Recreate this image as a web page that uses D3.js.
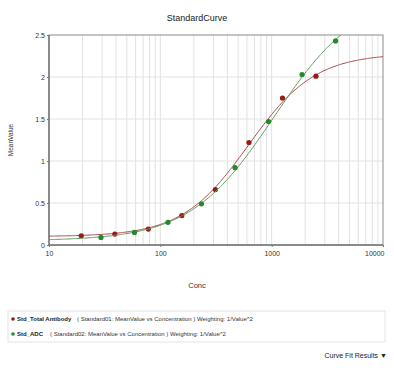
<!DOCTYPE html>
<html>
<head>
<meta charset="utf-8">
<script src="https://cdn.jsdelivr.net/npm/d3@7"></script>
<style>
  body { margin: 0; background: #fff; }
  text { font-family: "Liberation Sans", Arial, sans-serif; fill: #333; }
</style>
</head>
<body>
<div class="chart"></div>
<script>
// standards: concentration vs mean value
let totalConc = [19.5, 39, 78, 156, 312.5, 625, 1250, 2500]
let totalValue = [0.11, 0.13, 0.19, 0.35, 0.66, 1.22, 1.75, 2.01]
let adcConc = [29.3, 58.6, 117, 234, 469, 938, 1875, 3750]
let adcValue = [0.09, 0.15, 0.27, 0.49, 0.92, 1.47, 2.03, 2.43]

// 4PL fit parameters [A, B, C, D]
let totalFit = [0.1, 1.45, 620, 2.28]
let adcFit = [0.05, 1.15, 1050, 3.0]

let xTicks = [10, 100, 1000, 10000]
let yTicks = [0, 0.5, 1, 1.5, 2, 2.5]

let legendNames = ['Std_Total Antibody', 'Std_ADC']
let legendDesc = [
  '( Standard01: MeanValue vs Concentration )  Weighting: 1/Value^2',
  '( Standard02: MeanValue vs Concentration )  Weighting: 1/Value^2'
]

let width = 394, height = 368
let plot = { left: 49, right: 383, top: 35, bottom: 245 }

let x = d3.scaleLog().domain([10, 10000]).range([plot.left, plot.right])
let y = d3.scaleLinear().domain([0, 2.5]).range([plot.bottom, plot.top])

let svg = d3.select('.chart')
  .append('svg')
  .attr('width', width)
  .attr('height', height)

// grid
let minor = []
for (let p = 10; p < 10000; p *= 10) {
  for (let k = 1; k <= 9; k++) minor.push(p * k)
}
svg.append('g').selectAll('line')
  .data(minor.filter(d => d > 10))
  .enter().append('line')
  .attr('x1', d => x(d)).attr('x2', d => x(d))
  .attr('y1', plot.top).attr('y2', plot.bottom)
  .attr('stroke', '#e2e2e2').attr('stroke-width', 1)

svg.append('g').selectAll('line')
  .data(yTicks.filter(d => d > 0 && d < 2.5))
  .enter().append('line')
  .attr('x1', plot.left).attr('x2', plot.right)
  .attr('y1', d => y(d)).attr('y2', d => y(d))
  .attr('stroke', '#e2e2e2').attr('stroke-width', 1)

// frame
svg.append('rect')
  .attr('x', plot.left).attr('y', plot.top)
  .attr('width', plot.right - plot.left).attr('height', plot.bottom - plot.top)
  .attr('fill', 'none').attr('stroke', '#8a8a8a').attr('stroke-width', 1)
svg.append('line')
  .attr('x1', plot.left).attr('x2', plot.left)
  .attr('y1', plot.top).attr('y2', plot.bottom)
  .attr('stroke', '#777').attr('stroke-width', 1.5)
svg.append('line')
  .attr('x1', plot.left).attr('x2', plot.right)
  .attr('y1', plot.bottom).attr('y2', plot.bottom)
  .attr('stroke', '#777').attr('stroke-width', 1.5)

// axes
let yAxis = d3.axisLeft(y).tickValues(yTicks).tickSize(2).tickFormat(d3.format('~g'))
let gy = svg.append('g').attr('transform', `translate(${plot.left},0)`).call(yAxis)
gy.select('.domain').remove()
gy.selectAll('line').attr('stroke', '#777')
gy.selectAll('text').style('font-size', '7px').attr('x', -4)

let xAxis = d3.axisBottom(x).tickValues(xTicks).tickSize(2).tickFormat(d3.format('d'))
let gx = svg.append('g').attr('transform', `translate(0,${plot.bottom})`).call(xAxis)
gx.select('.domain').remove()
gx.selectAll('line').attr('stroke', '#777')
gx.selectAll('text').style('font-size', '7px').attr('dy', '0.9em')
gx.selectAll('text').filter(d => d === 10000).attr('text-anchor', 'end').attr('dx', '1px')

svg.append('text')
  .attr('x', 197).attr('y', 21)
  .attr('text-anchor', 'middle')
  .style('font-size', '9px')
  .style('fill', '#222')
  .text('StandardCurve')

svg.append('text')
  .attr('transform', `translate(13,${(plot.top + plot.bottom) / 2}) rotate(-90)`)
  .attr('text-anchor', 'middle')
  .style('font-size', '6.5px')
  .text('MeanValue')

svg.append('text')
  .attr('x', 197).attr('y', 288)
  .attr('text-anchor', 'middle')
  .style('font-size', '7.5px')
  .text('Conc')

// fitted curves
function fourPL(p) {
  return function (c) { return p[0] + (p[3] - p[0]) / (1 + Math.pow(p[2] / c, p[1])) }
}

let line = d3.line()
  .x(d => x(d[0]))
  .y(d => y(d[1]))

svg.append('clipPath').attr('id', 'clip')
  .append('rect')
  .attr('x', plot.left).attr('y', plot.top)
  .attr('width', plot.right - plot.left).attr('height', plot.bottom - plot.top)

let series = [
  { conc: totalConc, value: totalValue, fit: totalFit, line: '#a84a4a', dot: '#9a1818' },
  { conc: adcConc, value: adcValue, fit: adcFit, line: '#5f9a5f', dot: '#218a2a' }
]

series.forEach(s => {
  let f = fourPL(s.fit)
  let pts = d3.range(0, 301).map(i => {
    let c = x.invert(plot.left + (plot.right - plot.left) * i / 300)
    return [c, f(c)]
  })
  svg.append('path')
    .attr('clip-path', 'url(#clip)')
    .attr('d', line(pts))
    .attr('fill', 'none')
    .attr('stroke', s.line)
    .attr('stroke-width', 1)

  svg.append('g').selectAll('circle')
    .data(s.conc.map((c, i) => [c, s.value[i]]))
    .enter().append('circle')
    .attr('cx', d => x(d[0]))
    .attr('cy', d => y(d[1]))
    .attr('r', 2.6)
    .attr('fill', s.dot)
})

// legend
svg.append('rect')
  .attr('x', 8).attr('y', 311)
  .attr('width', 377).attr('height', 31)
  .attr('fill', '#fff').attr('stroke', '#e4e4e4')

let legend = svg.append('g').selectAll('g')
  .data(series)
  .enter().append('g')
  .attr('transform', (d, i) => `translate(0,${319 + i * 15})`)

legend.append('circle')
  .attr('cx', 13).attr('cy', 0).attr('r', 1.8)
  .attr('fill', d => d.dot)

legend.append('text')
  .attr('x', 17).attr('y', 2.3)
  .style('font-size', '6px')
  .style('font-weight', 'bold')
  .style('fill', '#222')
  .text((d, i) => legendNames[i])

legend.append('text')
  .attr('x', (d, i) => i === 0 ? 77 : 50).attr('y', 2.3)
  .style('font-size', '6px')
  .style('fill', '#333')
  .text((d, i) => legendDesc[i])

svg.append('text')
  .attr('x', 387).attr('y', 358)
  .attr('text-anchor', 'end')
  .style('font-size', '7px')
  .style('fill', '#222')
  .text('Curve Fit Results \u25BC')
</script>
</body>
</html>
